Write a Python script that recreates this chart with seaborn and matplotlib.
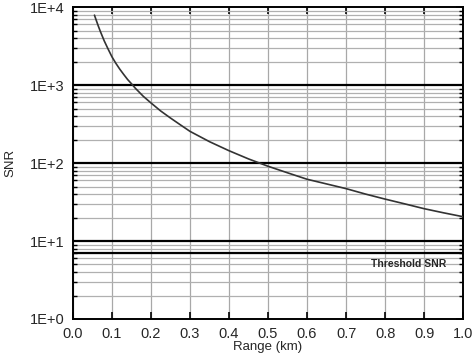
import numpy as np
import pandas as pd
import seaborn as sns
import matplotlib.pyplot as plt
from matplotlib.ticker import FixedLocator, LogLocator, NullFormatter

# values
range_km = [0.055, 0.06, 0.065, 0.07, 0.08, 0.09, 0.1, 0.11, 0.12, 0.13, 0.14,
            0.15, 0.16, 0.18, 0.2, 0.225, 0.25, 0.275, 0.3, 0.35, 0.4,
            0.45, 0.5, 0.55, 0.6, 0.65, 0.7, 0.75, 0.8, 0.85, 0.9, 0.95, 1.0]
snr = [7900, 6700, 5700, 4900, 3700, 2900, 2300, 1900, 1600, 1370, 1180,
       1040, 910, 720, 590, 465, 378, 310, 255, 188, 144,
       113, 91, 75, 62, 54, 47, 40, 34.5, 30, 26, 23, 20.5]
threshold_snr = 7
y_ticks = [1, 10, 100, 1000, 10000]
y_labels = ["1E+0", "1E+1", "1E+2", "1E+3", "1E+4"]
x_ticks = [0.0, 0.1, 0.2, 0.3, 0.4, 0.5, 0.6, 0.7, 0.8, 0.9, 1.0]


def main():
  sns.set_style("white")
  plt.rcParams['font.family'] = ['Liberation Sans', 'DejaVu Sans']

  df = pd.DataFrame({"Range (km)": range_km, "SNR": snr})

  fig = plt.figure(figsize=(4.74, 3.58), dpi=100)
  ax = fig.add_axes([0.154, 0.109, 0.823, 0.871])

  ax.set_yscale("log")
  ax.set_xlim(0, 1.0)
  ax.set_ylim(1, 10000)

  # grid
  ax.yaxis.set_minor_locator(LogLocator(base=10, subs=np.arange(2, 10)))
  ax.yaxis.set_minor_formatter(NullFormatter())
  ax.grid(which="minor", axis="y", color="#b0b0b0", linewidth=0.9)
  ax.grid(which="major", axis="x", color="#a8a8a8", linewidth=0.9)
  for v in y_ticks[1:-1] + [threshold_snr]:
    ax.axhline(v, color="black", linewidth=1.6, zorder=2)

  sns.lineplot(data=df, x="Range (km)", y="SNR", ax=ax, color="#333333",
               linewidth=1.2, zorder=3)

  ax.set_xticks(x_ticks)
  ax.set_xticklabels([f"{t:.1f}" for t in x_ticks], fontsize=10.5)
  ax.yaxis.set_major_locator(FixedLocator(y_ticks))
  ax.set_yticklabels(y_labels, fontsize=10.5)
  ax.tick_params(which="both", direction="in", top=True, right=True,
                 bottom=True, left=True, color="black")
  ax.tick_params(which="major", length=5, width=1.2, pad=6)
  ax.tick_params(which="minor", length=3, width=1.0)
  for s in ax.spines.values():
    s.set_color("black")
    s.set_linewidth(1.4)

  ax.text(0.958, 5.0, "Threshold SNR", fontsize=7.5, fontweight="bold",
          ha="right", va="center", zorder=4)

  ax.set_xlabel("Range (km)", fontsize=9.5, labelpad=0)
  ax.set_ylabel("SNR", fontsize=9.5, labelpad=10)

  fig.savefig("out.png", dpi=100)


if __name__ == "__main__":
  main()
